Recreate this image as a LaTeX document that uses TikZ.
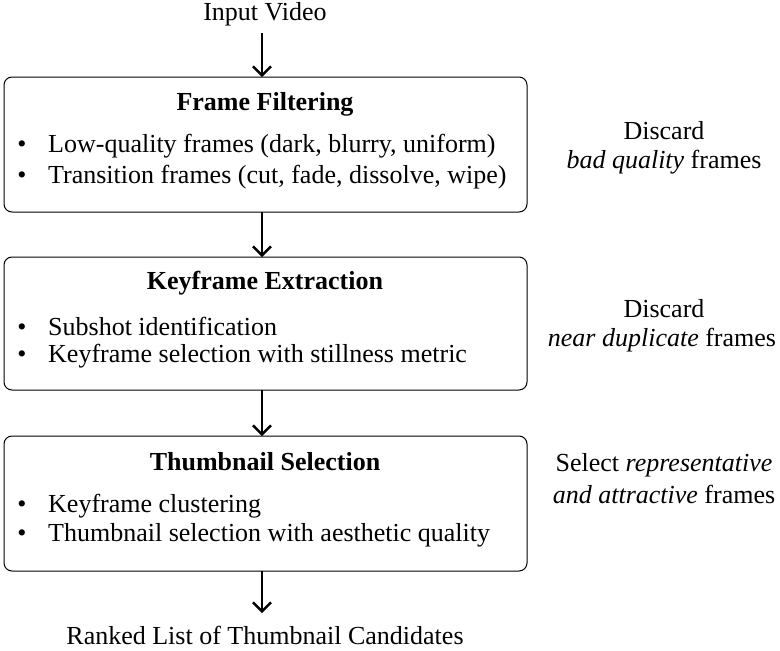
\documentclass[tikz,border=0pt]{standalone}
\usepackage{fontspec}
\setmainfont{Liberation Serif}
\usetikzlibrary{arrows.meta}
\begin{document}
\begin{tikzpicture}[x=1pt,y=-1pt,
  box/.style={draw,line width=1pt,rounded corners=8pt},
  arr/.style={line width=2.4pt,-{Straight Barb[length=9pt,width=18pt,line width=2.4pt]}},
  txt/.style={font=\fontsize{26}{30}\selectfont,inner sep=0pt},
  ttl/.style={font=\fontsize{26}{30}\selectfont\bfseries,inner sep=0pt},
  bl/.style={txt,anchor=west}]
\useasboundingbox (0,0) rectangle (780,651);
\node[txt] (in) at (265,14) {Input Video};
\node[txt] (out) at (265,635) {Ranked List of Thumbnail Candidates};
\draw[box] (4,77) rectangle (527,212); \coordinate (b1t) at (262,77); \coordinate (b1b) at (262,212);
\draw[box] (4,257) rectangle (527,390); \coordinate (b2t) at (262,257); \coordinate (b2b) at (262,390);
\draw[box] (4,436) rectangle (527,571); \coordinate (b3t) at (262,436); \coordinate (b3b) at (262,571);
\node[ttl] (t1) at (265,104) {Frame Filtering};
\node[ttl] (t2) at (265,283) {Keyframe Extraction};
\node[ttl] (t3) at (265,462) {Thumbnail Selection};
\foreach \y/\t [count=\i] in {146/Low-quality frames (dark{,} blurry{,} uniform),177/Transition frames (cut{,} fade{,} dissolve{,} wipe),326/Subshot identification,356/Keyframe selection with stillness metric,506/Keyframe clustering,535/Thumbnail selection with aesthetic quality}{
  \node[bl] (l\i) at (48,\y) {\t};
  \node[txt,anchor=base] (d\i) at (l\i.base -| 22,0) {•};
}
\node[txt] (r1a) at (664,131) {Discard};
\node[txt] (r1b) at (664,162) {\textit{bad quality} frames};
\node[txt] (r2a) at (664,309) {Discard};
\node[txt] (r2b) at (662,340) {\textit{near duplicate} frames};
\node[txt] (r3a) at (664,465) {Select \textit{representative}};
\node[txt] (r3b) at (664,494) {\textit{and attractive} frames};
\coordinate (o1) at (262,613);
\draw[arr] (262,33) -- (b1t);
\draw[arr] (b1b) -- (b2t);
\draw[arr] (b2b) -- (b3t);
\draw[arr] (b3b) -- (o1);
\end{tikzpicture}
\end{document}
